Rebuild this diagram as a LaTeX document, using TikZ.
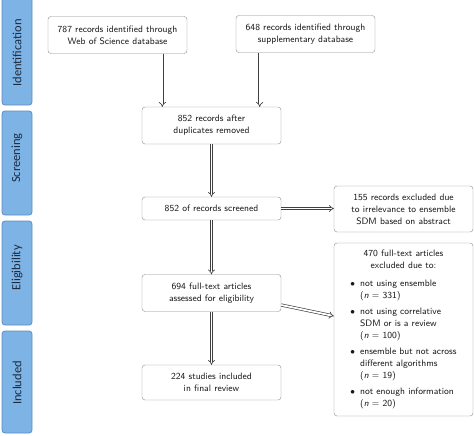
\documentclass[tikz,border=0pt]{standalone}
\usepackage{xcolor}
\usepackage{fontspec}
\usepackage{tikz}
\usetikzlibrary{arrows.meta,positioning,calc}
\renewcommand{\familydefault}{\sfdefault}
\newfontfamily\bandfont{Carlito}
\definecolor{bandblue}{HTML}{7EB3E6}
\definecolor{bandedge}{HTML}{5B8EC4}
\definecolor{bandtext}{HTML}{1C2B3E}

\begin{document}
\begin{tikzpicture}[
    x=1pt, y=-1pt,
    every node/.style={font=\fontsize{9.3}{12}\selectfont, text=black!90},
    box/.style={draw=black!45, rounded corners=3pt, fill=white, align=center,
                minimum width=139pt, minimum height=37pt, inner sep=2pt},
    band/.style={draw=bandedge, fill=bandblue, rounded corners=3pt, line width=0.8pt},
    bandlabel/.style={rotate=90, font=\bandfont\fontsize{12.5}{14}\selectfont, text=bandtext},
    dbl/.style={draw=black!75, double, double distance=1.8pt, line width=0.65pt, -{Implies}}
]
\useasboundingbox (0,0) rectangle (474,436);

% stage bands on the left
\draw[band] (2,-4) rectangle (32,105);
\draw[band] (2,111) rectangle (32,215);
\draw[band] (2,221) rectangle (32,325);
\draw[band] (2,331) rectangle (32,433);
\node[bandlabel] (ident) at (17,53) {Identification};
\node[bandlabel] (screen) at (17,158) {Screening};
\node[bandlabel] (elig) at (17,268) {Eligibility};
\node[bandlabel] (incl) at (17,383) {Included};

% boxes
\node[box] (wos) at (117.5,35) {787 records identified through\\Web of Science database};
\node[box] (supp) at (305.5,34) {648 records identified through\\supplementary database};
\node[box] (dup) at (211.5,125.5) {852 records after\\duplicates removed};
\node[box, minimum height=23pt] (screened) at (211.5,208.5) {852 of records screened};
\node[box, minimum height=46pt] (irrel) at (403.5,209) {155 records excluded due\\to irrelevance to ensemble\\SDM based on abstract};
\node[box] (full) at (211.5,293) {694 full-text articles\\assessed for eligibility};
\node[box, minimum height=35pt] (final) at (211.5,382.5) {224 studies included\\in final review};
\node[box, minimum height=173pt] (reasons) at (403.5,329.5) {%
  \begin{tabular}{@{}l@{\hspace{5pt}}l@{}}
  \multicolumn{2}{c}{470 full-text articles}\\
  \multicolumn{2}{c}{excluded due to:}\\[6pt]
  $\bullet$ & not using ensemble\\
  & (\textsl{n} = 331)\\[4pt]
  $\bullet$ & not using correlative\\
  & SDM or is a review\\
  & (\textsl{n} = 100)\\[4pt]
  $\bullet$ & ensemble but not across\\
  & different algorithms\\
  & (\textsl{n} = 19)\\[4pt]
  $\bullet$ & not enough information\\
  & (\textsl{n} = 20)
  \end{tabular}};

% arrows
\coordinate (dupin1) at ([xshift=20.5pt]dup.north west);
\coordinate (dupin2) at ([xshift=-21.5pt]dup.north east);
\draw[dbl] (wos.south -| dupin1) -- (dupin1);
\draw[dbl] (supp.south -| dupin2) -- (dupin2);
\draw[dbl] (dup) -- (screened);
\draw[dbl] (screened.east) -- (screened.east -| irrel.west);
\draw[dbl] (screened) -- (full);
\draw[dbl] ([yshift=-12pt]full.east) -- ([yshift=13.5pt]reasons.west);
\draw[dbl] (full) -- (final);
\end{tikzpicture}
\end{document}
